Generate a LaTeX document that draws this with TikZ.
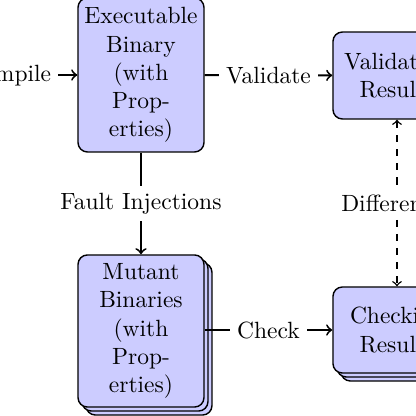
\documentclass[tikz,border=0pt]{standalone}
\usetikzlibrary{shadows}
\begin{document}
\begin{tikzpicture}[x=0.4255pt,y=-0.4255pt,
  box/.style={draw, semithick, fill=blue!20, rounded corners=4pt, align=center, inner sep=0pt},
  stackbox/.style={box,
    copy shadow={shadow xshift=3.4pt,shadow yshift=-3.4pt,fill=blue!20,draw,semithick},
    copy shadow={shadow xshift=1.7pt,shadow yshift=-1.7pt,fill=blue!20,draw,semithick}},
  conn/.style={thick,->},
  lab/.style={fill=white, inner sep=3pt}]
\useasboundingbox (0,0) rectangle (416,416);
\clip (0,0) rectangle (416,416);
\node[box, minimum width=53.6pt, minimum height=65.5pt] (exe) at (141,75)
  {Executable\\Binary\\(with\\Prop-\\erties)};
\node[stackbox, minimum width=53.6pt, minimum height=64.7pt] (mut) at (141,331)
  {Mutant\\Binaries\\(with\\Prop-\\erties)};
\node[box, minimum width=54.5pt, minimum height=37pt] (val) at (397,75.5)
  {Validation\\Results};
\node[stackbox, minimum width=54.5pt, minimum height=36.6pt] (chk) at (397,330)
  {Checking\\Results};
\coordinate (src) at (-60,75);
\draw[conn] (src) -- node[lab]{Compile} (exe);
\draw[conn] (exe) -- node[lab]{Validate} (val);
\draw[conn] (exe) -- node[lab]{Fault Injections} (mut);
\draw[conn] (mut.east |- chk.west) -- node[lab]{Check} (chk.west);
\draw[semithick,dashed,<->] (val) -- node[lab]{Differences} (chk);
\end{tikzpicture}
\end{document}
